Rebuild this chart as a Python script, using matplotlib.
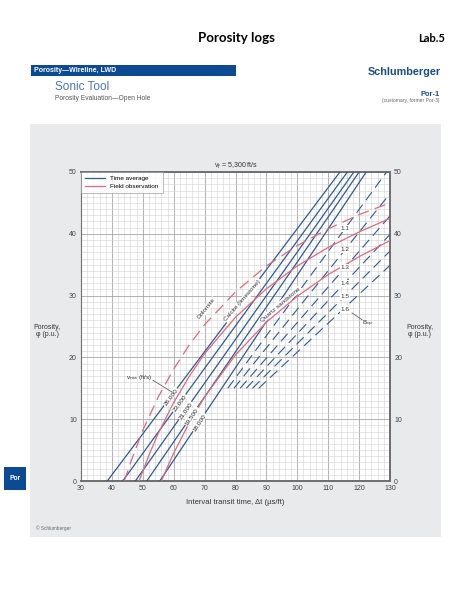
import numpy as np
import matplotlib
matplotlib.use('Agg')
import matplotlib.pyplot as plt
from matplotlib.patches import Rectangle
from matplotlib.lines import Line2D

# --- chart values ---
vf_text = 'v$_\\mathrm{f}$ = 5,300 ft/s'

# time-average lines: transit time where phi = 0 and where phi = 50
vma_labels = ['26,000', '23,000', '21,000', '19,500', '18,000']
ta_dt_phi0 = [38.5, 43.5, 47.6, 51.3, 55.5]
ta_dt_phi50 = [113.8, 116.2, 118.3, 120.0, 122.3]

# compaction-corrected (Bcp) dashed lines: start at phi = 15, end at frame
bcp_labels = ['1.1', '1.2', '1.3', '1.4', '1.5', '1.6']
bcp_dt_start = [77.5, 79.5, 81.5, 83.5, 85.5, 87.5]
bcp_dt_end = [128.9, 130.0, 130.0, 130.0, 130.0, 130.0]
bcp_phi_end = [50.0, 46.5, 42.9, 39.9, 37.2, 34.9]
bcp_label_phi = [40.9, 37.4, 34.5, 32.0, 29.9, 27.8]

# field observation curves (dt, phi)
dolo_dt = [44, 47, 50, 55, 60, 65, 70, 80, 90, 100, 110, 120, 130]
dolo_phi = [0, 4.3, 8.2, 13.6, 18.1, 22.0, 25.3, 30.6, 34.8, 38.1, 40.8, 43.1, 45.0]
lime_dt = [48.8, 52, 55, 60, 65, 70, 80, 90, 100, 110, 120, 130]
lime_phi = [0, 4.2, 7.7, 12.7, 16.9, 20.6, 26.5, 31.1, 34.8, 37.8, 40.3, 42.5]
sand_dt = [56, 58, 60, 65, 70, 80, 90, 100, 110, 120, 130]
sand_phi = [0, 2.3, 4.5, 9.4, 13.6, 20.4, 25.7, 29.9, 33.4, 36.3, 38.9]

plt.rcParams['font.family'] = ['Liberation Sans Narrow', 'Liberation Sans', 'DejaVu Sans']

BLUE = '#2d5a97'
RED = '#e2677e'
DARKBLUE = '#0b4a95'
W, H = 476, 612


def fx(px):
    return px / W


def fy(py):
    return 1 - py / H


fig = plt.figure(figsize=(W / 100, H / 100), dpi=100)

# page header
fig.text(fx(236), fy(38), 'Porosity logs', family=['Lato', 'DejaVu Sans'], fontweight='bold',
         fontsize=9.5, ha='center', va='center')
fig.text(fx(432), fy(38), 'Lab.5', family=['Lato', 'DejaVu Sans'], fontweight='bold',
         fontsize=8, ha='center', va='center')

fig.add_artist(Rectangle((fx(31), fy(76)), (236 - 31) / W, 11 / H, transform=fig.transFigure,
                         color=DARKBLUE, lw=0))
fig.text(fx(34), fy(70.5), 'Porosity\u2014Wireline, LWD', color='white', fontweight='bold',
         fontsize=5, va='center')
fig.text(fx(55), fy(87), 'Sonic Tool', color='#4a76b4', fontsize=8.5, va='center')
fig.text(fx(55), fy(99), 'Porosity Evaluation\u2014Open Hole', color='#555555', fontsize=4.8,
         va='center')
fig.text(fx(441), fy(72), 'Schlumberger', color='#1b4a8c', fontweight='bold', fontsize=7.8,
         ha='right', va='center')
fig.text(fx(440), fy(94), 'Por-1', color='#1b4a8c', fontweight='bold', fontsize=5.4,
         ha='right', va='center')
fig.text(fx(440), fy(100.5), '(customary, former Por-3)', color='#666666', fontsize=3.6,
         ha='right', va='center')

# gray chart panel
fig.add_artist(Rectangle((fx(30), fy(537)), (441 - 30) / W, (537 - 124) / H,
                         transform=fig.transFigure, color='#e8eaec', lw=0, zorder=0))
fig.text(fx(36), fy(528), '\u00a9 Schlumberger', color='#666666', fontsize=3.4, va='center')

# side tab
fig.add_artist(Rectangle((fx(4), fy(490)), 22 / W, 23 / H, transform=fig.transFigure,
                         color=DARKBLUE, lw=0))
fig.text(fx(15), fy(478.5), 'Por', color='white', fontweight='bold', fontsize=4.8,
         ha='center', va='center')

ax = fig.add_axes([fx(81), fy(481), (390 - 81) / W, (481 - 172) / H])
ax.set_facecolor('white')
ax.set_xlim(30, 130)
ax.set_ylim(0, 50)
ax.set_xticks(np.arange(30, 131, 10))
ax.set_xticks(np.arange(30, 131, 2), minor=True)
ax.set_yticks(np.arange(0, 51, 10))
ax.set_yticks(np.arange(0, 51, 1), minor=True)
ax.grid(which='major', color='#a6a6a6', lw=0.6)
ax.grid(which='minor', color='#d2d2d2', lw=0.4)
ax.set_axisbelow(True)
ax.tick_params(which='both', length=0, labelsize=5, colors='#444444', pad=3)
ax.tick_params(axis='y', labelright=True)
for s in ax.spines.values():
    s.set_color('#6e6e6e')
    s.set_linewidth(1.4)
ax.spines['left'].set_linewidth(0.8)

ax.set_xlabel('Interval transit time, \u0394t (\u00b5s/ft)', fontsize=5.5, color='#333333',
              labelpad=5)
fig.text(fx(47), fy(331), 'Porosity,\n\u03c6 (p.u.)', fontsize=5, color='#333333',
         ha='center', va='center', linespacing=1.1)
fig.text(fx(420), fy(331), 'Porosity,\n\u03c6 (p.u.)', fontsize=5, color='#333333',
         ha='center', va='center', linespacing=1.1)
fig.text(fx(236), fy(166), vf_text, fontsize=5, color='#333333', ha='center', va='center')


def disp_angle(x0, y0, x1, y1):
    p = ax.transData.transform([(x0, y0), (x1, y1)])
    return np.degrees(np.arctan2(p[1, 1] - p[0, 1], p[1, 0] - p[0, 0]))


lab_box = dict(facecolor='white', edgecolor='none', pad=0.6)

# time-average lines
for d0, d50 in zip(ta_dt_phi0, ta_dt_phi50):
    ax.plot([d0, d50], [0, 50], color=BLUE, lw=0.9, zorder=3)

# Bcp dashed lines
for d0, d1, p1 in zip(bcp_dt_start, bcp_dt_end, bcp_phi_end):
    ax.plot([d0, d1], [15, p1], color=BLUE, lw=0.8, dashes=(9, 5), zorder=3)

# field observation curves
ax.plot(dolo_dt, dolo_phi, color=RED, lw=0.9, dashes=(9, 5), zorder=4)
ax.plot(lime_dt, lime_phi, color=RED, lw=0.9, zorder=4)
ax.plot(sand_dt, sand_phi, color=RED, lw=0.9, zorder=4)

# labels on the time-average lines
lab_phi = [13.6, 12.6, 11.4, 10.5, 9.5]
for lab, d0, d50, ph in zip(vma_labels, ta_dt_phi0, ta_dt_phi50, lab_phi):
    xx = d0 + (d50 - d0) * ph / 50
    ang = disp_angle(d0, 0, d50, 50)
    ax.text(xx, ph, lab, fontsize=4.6, rotation=ang, ha='center', va='center',
            rotation_mode='anchor', bbox=lab_box, zorder=6, color='#222222')

ax.text(48.8, 16.7, 'v$_\\mathrm{ma}$ (ft/s)', fontsize=4.6, ha='center', va='center',
        color='#333333', zorder=6)
ax.plot([53.3, 59.4], [16.3, 14.4], color='#666666', lw=0.6, zorder=6)

# labels on field observation curves
for txt, x, y, a in [('Dolomite', 70.6, 27.9, (65, 22.0, 75, 28.2)),
                     ('Calcite (limestone)', 82.4, 29.2, (75, 22.5, 90, 31.1)),
                     ('Quartz sandstone', 94.6, 28.6, (88, 24.8, 100, 29.9))]:
    ax.text(x, y, txt, fontsize=4.6, rotation=disp_angle(*a), ha='center', va='center',
            rotation_mode='anchor', bbox=lab_box, zorder=6, color='#333333')

# Bcp labels
for lab, ph in zip(bcp_labels, bcp_label_phi):
    ax.text(115.4, ph, lab, fontsize=4.6, ha='center', va='center', bbox=lab_box,
            zorder=6, color='#333333')
ax.text(122.8, 25.5, 'B$_\\mathrm{cp}$', fontsize=4.6, ha='center', va='center',
        color='#333333', zorder=6)
ax.plot([117.7, 120.9], [27.2, 26.1], color='#666666', lw=0.6, zorder=6)

handles = [Line2D([], [], color=BLUE, lw=0.9), Line2D([], [], color=RED, lw=0.9)]
leg = ax.legend(handles, ['Time average', 'Field observation'], loc='upper left',
                fontsize=4.6, frameon=True, fancybox=False, borderaxespad=0,
                handlelength=3.2, borderpad=0.6, labelspacing=0.4)
leg.get_frame().set_edgecolor('#888888')
leg.get_frame().set_linewidth(0.5)
leg.set_zorder(7)

fig.savefig('out.png', dpi=100)
